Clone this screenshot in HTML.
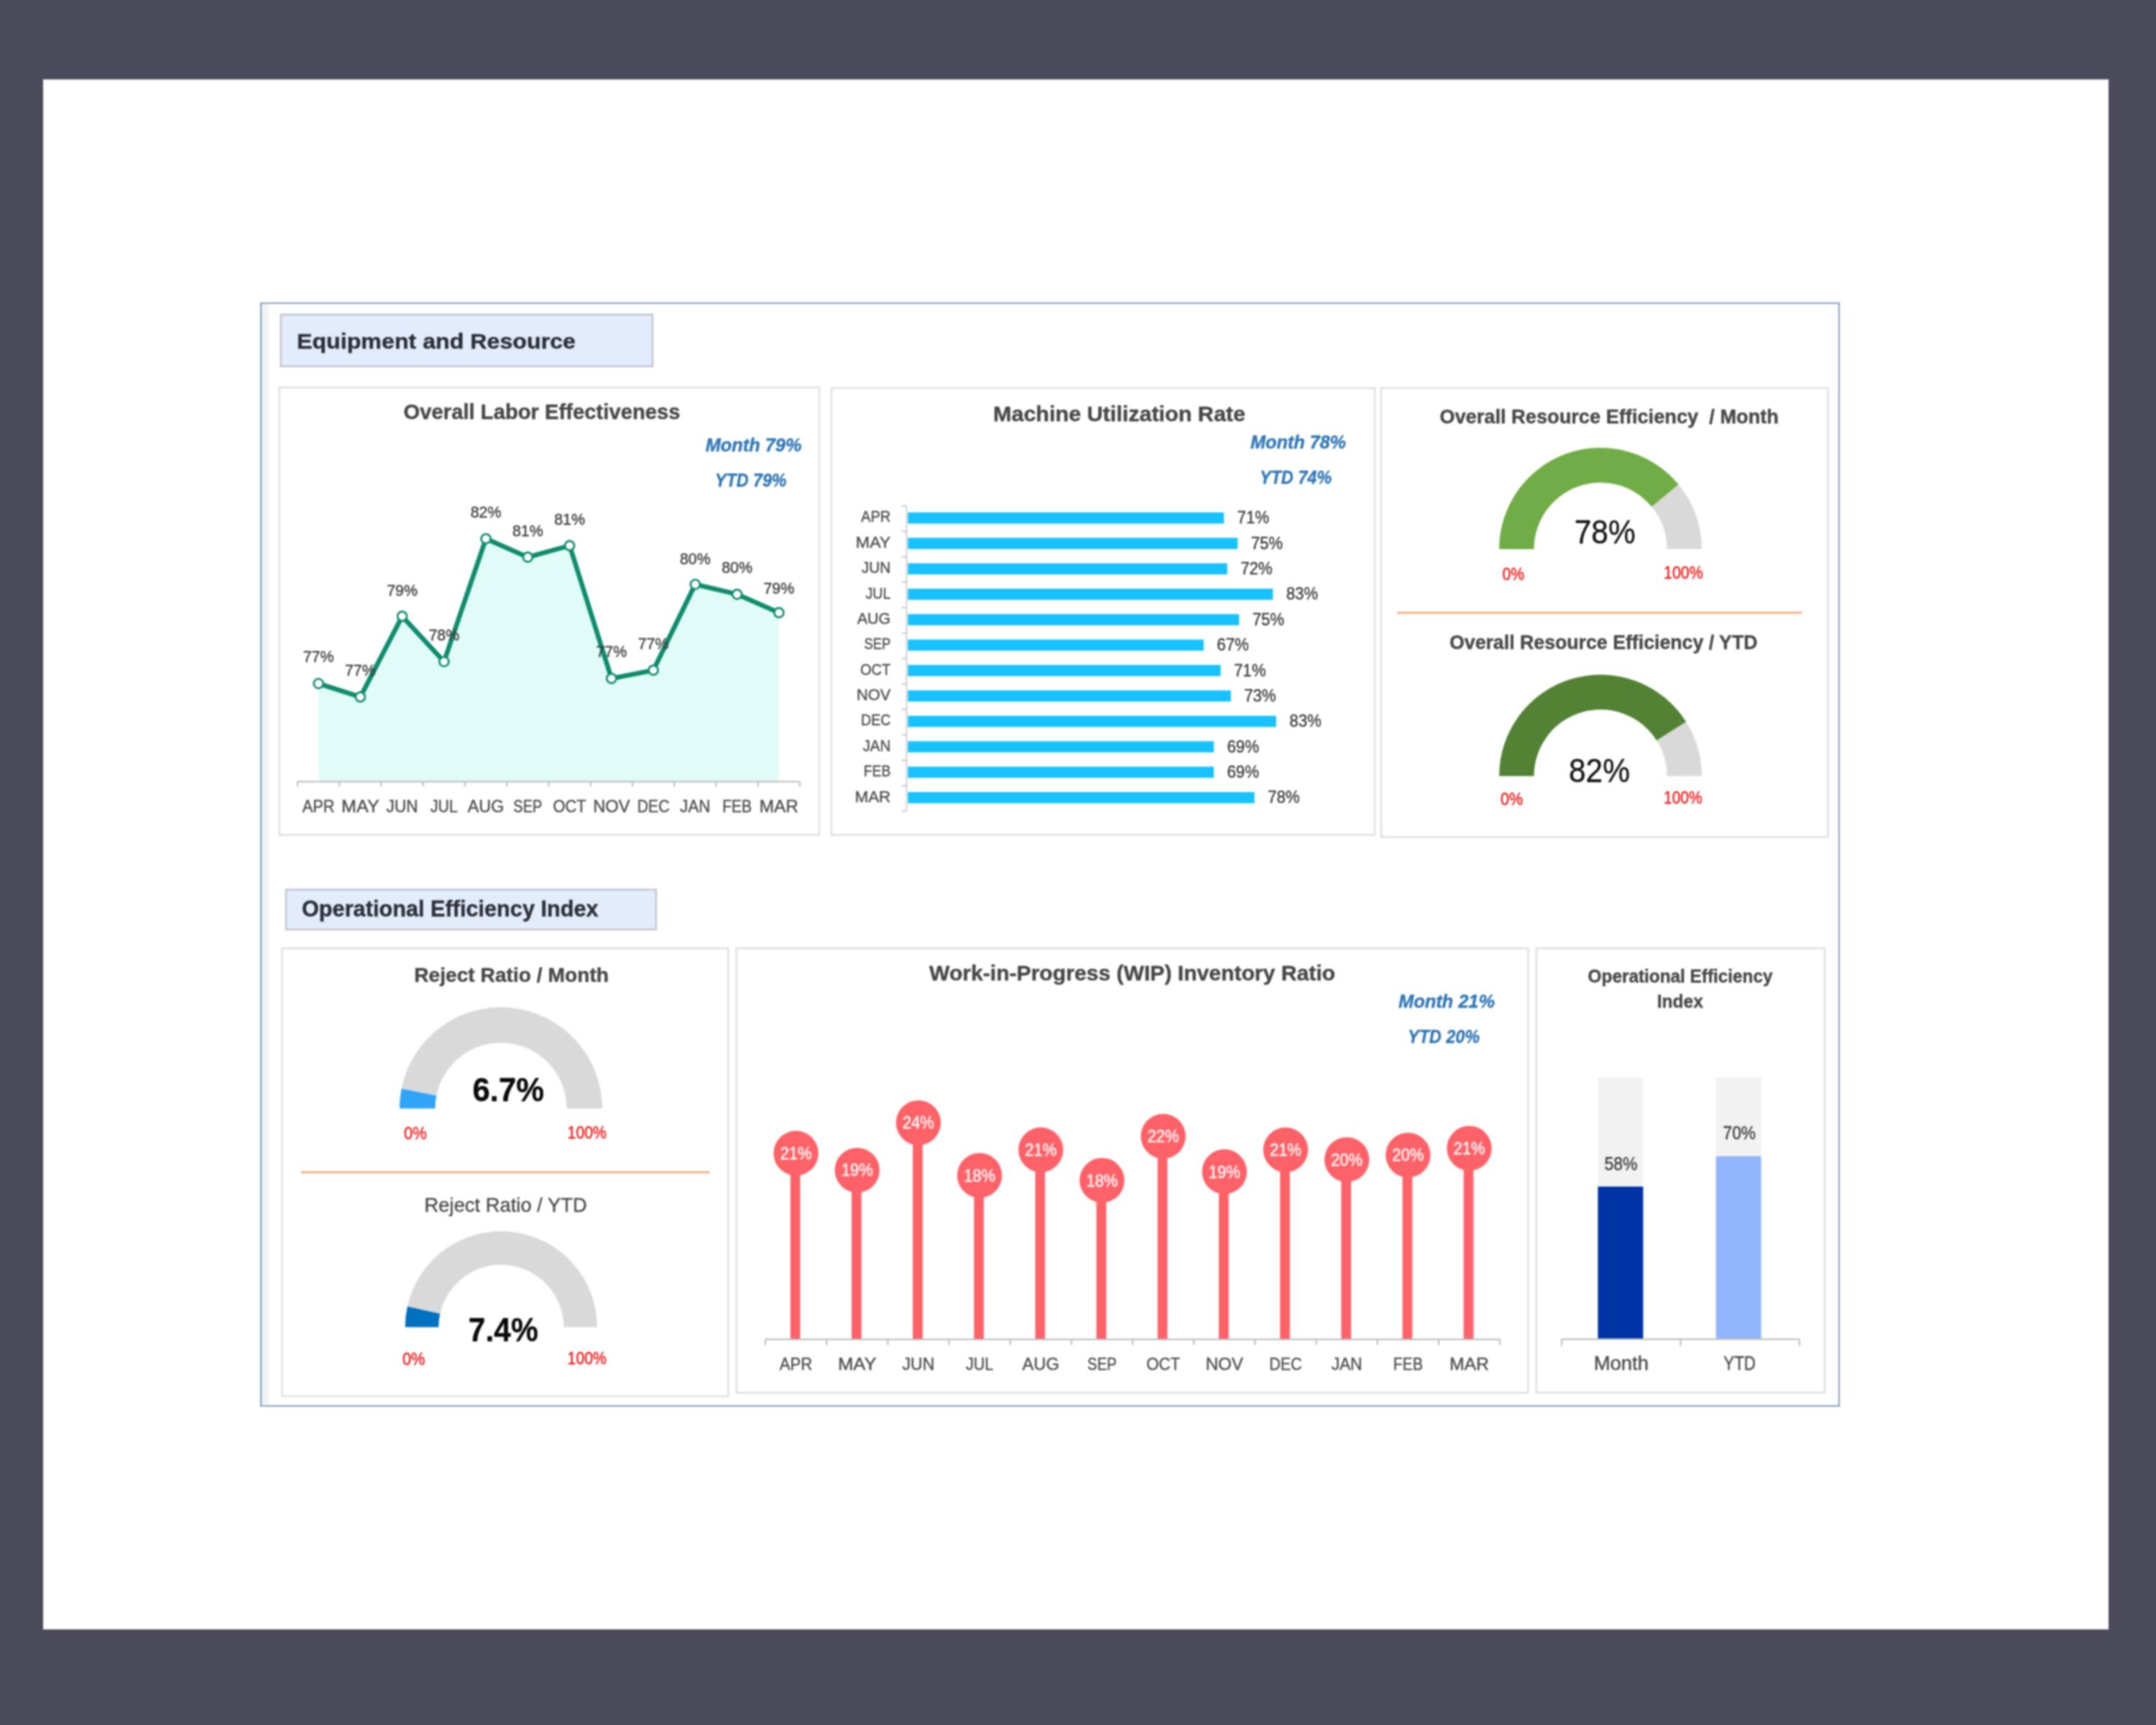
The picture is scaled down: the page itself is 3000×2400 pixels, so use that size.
<!DOCTYPE html>
<html lang="en"><head><meta charset="utf-8"><title>Manufacturing KPI Dashboard</title>
<style>
html,body{margin:0;padding:0;background:#4b4a59;}
body{width:3000px;height:2400px;overflow:hidden;}
svg{display:block;font-family:"Liberation Sans",sans-serif;}
text{stroke-width:0.4px;}
</style></head><body>
<svg width="3000" height="2400" viewBox="0 0 3000 2400">
<g style="filter:blur(0.8px)">
<rect x="60.00" y="110.50" width="2874.00" height="2156.50" fill="#ffffff"/>
<rect x="363.00" y="421.70" width="2196.00" height="1534.50" fill="#ffffff" stroke="#6283b0" stroke-width="1.6"/>
<rect x="364.00" y="422.70" width="2.80" height="1532.50" fill="#e0effc"/>
<rect x="366.80" y="422.70" width="7.00" height="1532.50" fill="#f4f2f3"/>
<rect x="390.80" y="437.70" width="517.20" height="72.10" fill="#e3ecfd" stroke="#bfc4cb" stroke-width="2.4"/>
<text x="607.00" y="485.00" font-size="29.50" fill="#2b2e36" stroke="#2b2e36" text-anchor="middle" font-weight="700" textLength="388.00" lengthAdjust="spacingAndGlyphs">Equipment and Resource</text>
<rect x="398.00" y="1237.70" width="515.00" height="55.50" fill="#e3ecfd" stroke="#bfc4cb" stroke-width="2.3"/>
<text x="626.30" y="1275.00" font-size="32.00" fill="#2b2e36" stroke="#2b2e36" text-anchor="middle" font-weight="700" textLength="412.60" lengthAdjust="spacingAndGlyphs">Operational Efficiency Index</text>
<rect x="388.70" y="539.00" width="751.30" height="622.50" fill="#ffffff" stroke="#dedede" stroke-width="2.4"/>
<rect x="1156.80" y="540.00" width="756.20" height="621.50" fill="#ffffff" stroke="#dedede" stroke-width="2.4"/>
<rect x="1922.00" y="540.00" width="621.50" height="624.50" fill="#ffffff" stroke="#dedede" stroke-width="2.4"/>
<rect x="392.60" y="1319.40" width="620.80" height="623.10" fill="#ffffff" stroke="#dedede" stroke-width="2.4"/>
<rect x="1024.70" y="1319.40" width="1101.70" height="618.40" fill="#ffffff" stroke="#dedede" stroke-width="2.4"/>
<rect x="2137.70" y="1319.40" width="401.40" height="618.10" fill="#ffffff" stroke="#dedede" stroke-width="2.4"/>
<text x="754.05" y="583.10" font-size="30.00" fill="#464646" stroke="#464646" text-anchor="middle" font-weight="700" textLength="384.90" lengthAdjust="spacingAndGlyphs">Overall Labor Effectiveness</text>
<text x="1048.60" y="628.30" font-size="26.00" fill="#2e75b6" stroke="#2e75b6" text-anchor="middle" font-weight="700" font-style="italic" textLength="133.80" lengthAdjust="spacingAndGlyphs">Month 79%</text>
<text x="1044.75" y="676.80" font-size="26.00" fill="#2e75b6" stroke="#2e75b6" text-anchor="middle" font-weight="700" font-style="italic" textLength="99.50" lengthAdjust="spacingAndGlyphs">YTD 79%</text>
<polygon points="443.12,1087.4 443.12,951.00 501.38,969.70 559.62,857.40 617.88,920.50 676.12,749.50 734.38,775.20 792.62,759.10 850.88,943.90 909.12,932.40 967.38,813.00 1025.62,826.80 1083.88,852.40 1083.88,1087.4" fill="#e1fcf8"/>
<line x1="414.00" y1="1087.40" x2="1113.00" y2="1087.40" stroke="#b9b9b9" stroke-width="2"/>
<line x1="414.00" y1="1087.40" x2="414.00" y2="1094.40" stroke="#b9b9b9" stroke-width="2"/>
<line x1="472.25" y1="1087.40" x2="472.25" y2="1094.40" stroke="#b9b9b9" stroke-width="2"/>
<line x1="530.50" y1="1087.40" x2="530.50" y2="1094.40" stroke="#b9b9b9" stroke-width="2"/>
<line x1="588.75" y1="1087.40" x2="588.75" y2="1094.40" stroke="#b9b9b9" stroke-width="2"/>
<line x1="647.00" y1="1087.40" x2="647.00" y2="1094.40" stroke="#b9b9b9" stroke-width="2"/>
<line x1="705.25" y1="1087.40" x2="705.25" y2="1094.40" stroke="#b9b9b9" stroke-width="2"/>
<line x1="763.50" y1="1087.40" x2="763.50" y2="1094.40" stroke="#b9b9b9" stroke-width="2"/>
<line x1="821.75" y1="1087.40" x2="821.75" y2="1094.40" stroke="#b9b9b9" stroke-width="2"/>
<line x1="880.00" y1="1087.40" x2="880.00" y2="1094.40" stroke="#b9b9b9" stroke-width="2"/>
<line x1="938.25" y1="1087.40" x2="938.25" y2="1094.40" stroke="#b9b9b9" stroke-width="2"/>
<line x1="996.50" y1="1087.40" x2="996.50" y2="1094.40" stroke="#b9b9b9" stroke-width="2"/>
<line x1="1054.75" y1="1087.40" x2="1054.75" y2="1094.40" stroke="#b9b9b9" stroke-width="2"/>
<line x1="1113.00" y1="1087.40" x2="1113.00" y2="1094.40" stroke="#b9b9b9" stroke-width="2"/>
<polyline points="443.12,951.00 501.38,969.70 559.62,857.40 617.88,920.50 676.12,749.50 734.38,775.20 792.62,759.10 850.88,943.90 909.12,932.40 967.38,813.00 1025.62,826.80 1083.88,852.40" fill="none" stroke="#0f8c6e" stroke-width="6.6" stroke-linejoin="round" stroke-linecap="round"/>
<circle cx="443.12" cy="951.00" r="6.5" fill="#fff" stroke="#0f8c6e" stroke-width="2.7"/>
<circle cx="501.38" cy="969.70" r="6.5" fill="#fff" stroke="#0f8c6e" stroke-width="2.7"/>
<circle cx="559.62" cy="857.40" r="6.5" fill="#fff" stroke="#0f8c6e" stroke-width="2.7"/>
<circle cx="617.88" cy="920.50" r="6.5" fill="#fff" stroke="#0f8c6e" stroke-width="2.7"/>
<circle cx="676.12" cy="749.50" r="6.5" fill="#fff" stroke="#0f8c6e" stroke-width="2.7"/>
<circle cx="734.38" cy="775.20" r="6.5" fill="#fff" stroke="#0f8c6e" stroke-width="2.7"/>
<circle cx="792.62" cy="759.10" r="6.5" fill="#fff" stroke="#0f8c6e" stroke-width="2.7"/>
<circle cx="850.88" cy="943.90" r="6.5" fill="#fff" stroke="#0f8c6e" stroke-width="2.7"/>
<circle cx="909.12" cy="932.40" r="6.5" fill="#fff" stroke="#0f8c6e" stroke-width="2.7"/>
<circle cx="967.38" cy="813.00" r="6.5" fill="#fff" stroke="#0f8c6e" stroke-width="2.7"/>
<circle cx="1025.62" cy="826.80" r="6.5" fill="#fff" stroke="#0f8c6e" stroke-width="2.7"/>
<circle cx="1083.88" cy="852.40" r="6.5" fill="#fff" stroke="#0f8c6e" stroke-width="2.7"/>
<text x="443.12" y="921.40" font-size="22.82" fill="#3a3a3a" stroke="#3a3a3a" text-anchor="middle" textLength="42.87" lengthAdjust="spacingAndGlyphs">77%</text>
<text x="501.38" y="940.10" font-size="22.82" fill="#3a3a3a" stroke="#3a3a3a" text-anchor="middle" textLength="42.87" lengthAdjust="spacingAndGlyphs">77%</text>
<text x="559.62" y="828.80" font-size="22.82" fill="#3a3a3a" stroke="#3a3a3a" text-anchor="middle" textLength="42.87" lengthAdjust="spacingAndGlyphs">79%</text>
<text x="617.88" y="890.90" font-size="22.82" fill="#3a3a3a" stroke="#3a3a3a" text-anchor="middle" textLength="42.87" lengthAdjust="spacingAndGlyphs">78%</text>
<text x="676.12" y="719.90" font-size="22.82" fill="#3a3a3a" stroke="#3a3a3a" text-anchor="middle" textLength="42.87" lengthAdjust="spacingAndGlyphs">82%</text>
<text x="734.38" y="745.60" font-size="22.82" fill="#3a3a3a" stroke="#3a3a3a" text-anchor="middle" textLength="42.87" lengthAdjust="spacingAndGlyphs">81%</text>
<text x="792.62" y="729.50" font-size="22.82" fill="#3a3a3a" stroke="#3a3a3a" text-anchor="middle" textLength="42.87" lengthAdjust="spacingAndGlyphs">81%</text>
<text x="850.88" y="914.30" font-size="22.82" fill="#3a3a3a" stroke="#3a3a3a" text-anchor="middle" textLength="42.87" lengthAdjust="spacingAndGlyphs">77%</text>
<text x="909.12" y="902.80" font-size="22.82" fill="#3a3a3a" stroke="#3a3a3a" text-anchor="middle" textLength="42.87" lengthAdjust="spacingAndGlyphs">77%</text>
<text x="967.38" y="785.40" font-size="22.82" fill="#3a3a3a" stroke="#3a3a3a" text-anchor="middle" textLength="42.87" lengthAdjust="spacingAndGlyphs">80%</text>
<text x="1025.62" y="797.20" font-size="22.82" fill="#3a3a3a" stroke="#3a3a3a" text-anchor="middle" textLength="42.87" lengthAdjust="spacingAndGlyphs">80%</text>
<text x="1083.88" y="826.30" font-size="22.82" fill="#3a3a3a" stroke="#3a3a3a" text-anchor="middle" textLength="42.87" lengthAdjust="spacingAndGlyphs">79%</text>
<text x="443.12" y="1129.70" font-size="24.66" fill="#4c4c4c" stroke="#4c4c4c" text-anchor="middle" textLength="44.89" lengthAdjust="spacingAndGlyphs">APR</text>
<text x="501.38" y="1129.70" font-size="24.66" fill="#4c4c4c" stroke="#4c4c4c" text-anchor="middle" textLength="52.63" lengthAdjust="spacingAndGlyphs">MAY</text>
<text x="559.62" y="1129.70" font-size="24.66" fill="#4c4c4c" stroke="#4c4c4c" text-anchor="middle" textLength="44.00" lengthAdjust="spacingAndGlyphs">JUN</text>
<text x="617.88" y="1129.70" font-size="24.66" fill="#4c4c4c" stroke="#4c4c4c" text-anchor="middle" textLength="37.84" lengthAdjust="spacingAndGlyphs">JUL</text>
<text x="676.12" y="1129.70" font-size="24.66" fill="#4c4c4c" stroke="#4c4c4c" text-anchor="middle" textLength="50.72" lengthAdjust="spacingAndGlyphs">AUG</text>
<text x="734.38" y="1129.70" font-size="24.66" fill="#4c4c4c" stroke="#4c4c4c" text-anchor="middle" textLength="40.12" lengthAdjust="spacingAndGlyphs">SEP</text>
<text x="792.62" y="1129.70" font-size="24.66" fill="#4c4c4c" stroke="#4c4c4c" text-anchor="middle" textLength="46.10" lengthAdjust="spacingAndGlyphs">OCT</text>
<text x="850.88" y="1129.70" font-size="24.66" fill="#4c4c4c" stroke="#4c4c4c" text-anchor="middle" textLength="51.38" lengthAdjust="spacingAndGlyphs">NOV</text>
<text x="909.12" y="1129.70" font-size="24.66" fill="#4c4c4c" stroke="#4c4c4c" text-anchor="middle" textLength="44.85" lengthAdjust="spacingAndGlyphs">DEC</text>
<text x="967.38" y="1129.70" font-size="24.66" fill="#4c4c4c" stroke="#4c4c4c" text-anchor="middle" textLength="42.28" lengthAdjust="spacingAndGlyphs">JAN</text>
<text x="1025.62" y="1129.70" font-size="24.66" fill="#4c4c4c" stroke="#4c4c4c" text-anchor="middle" textLength="40.87" lengthAdjust="spacingAndGlyphs">FEB</text>
<text x="1083.88" y="1129.70" font-size="24.66" fill="#4c4c4c" stroke="#4c4c4c" text-anchor="middle" textLength="54.16" lengthAdjust="spacingAndGlyphs">MAR</text>
<text x="1557.50" y="586.00" font-size="30.00" fill="#464646" stroke="#464646" text-anchor="middle" font-weight="700" textLength="351.00" lengthAdjust="spacingAndGlyphs">Machine Utilization Rate</text>
<text x="1806.50" y="623.50" font-size="26.00" fill="#2e75b6" stroke="#2e75b6" text-anchor="middle" font-weight="700" font-style="italic" textLength="133.00" lengthAdjust="spacingAndGlyphs">Month 78%</text>
<text x="1803.00" y="673.00" font-size="26.00" fill="#2e75b6" stroke="#2e75b6" text-anchor="middle" font-weight="700" font-style="italic" textLength="100.00" lengthAdjust="spacingAndGlyphs">YTD 74%</text>
<line x1="1261.50" y1="704.00" x2="1261.50" y2="1128.50" stroke="#cfcfcf" stroke-width="2"/>
<line x1="1254.80" y1="704.00" x2="1261.50" y2="704.00" stroke="#c8c8c8" stroke-width="2"/>
<line x1="1254.80" y1="739.38" x2="1261.50" y2="739.38" stroke="#c8c8c8" stroke-width="2"/>
<line x1="1254.80" y1="774.75" x2="1261.50" y2="774.75" stroke="#c8c8c8" stroke-width="2"/>
<line x1="1254.80" y1="810.12" x2="1261.50" y2="810.12" stroke="#c8c8c8" stroke-width="2"/>
<line x1="1254.80" y1="845.50" x2="1261.50" y2="845.50" stroke="#c8c8c8" stroke-width="2"/>
<line x1="1254.80" y1="880.88" x2="1261.50" y2="880.88" stroke="#c8c8c8" stroke-width="2"/>
<line x1="1254.80" y1="916.25" x2="1261.50" y2="916.25" stroke="#c8c8c8" stroke-width="2"/>
<line x1="1254.80" y1="951.62" x2="1261.50" y2="951.62" stroke="#c8c8c8" stroke-width="2"/>
<line x1="1254.80" y1="987.00" x2="1261.50" y2="987.00" stroke="#c8c8c8" stroke-width="2"/>
<line x1="1254.80" y1="1022.38" x2="1261.50" y2="1022.38" stroke="#c8c8c8" stroke-width="2"/>
<line x1="1254.80" y1="1057.75" x2="1261.50" y2="1057.75" stroke="#c8c8c8" stroke-width="2"/>
<line x1="1254.80" y1="1093.12" x2="1261.50" y2="1093.12" stroke="#c8c8c8" stroke-width="2"/>
<line x1="1254.80" y1="1128.50" x2="1261.50" y2="1128.50" stroke="#c8c8c8" stroke-width="2"/>
<rect x="1263.30" y="712.89" width="439.80" height="15.60" fill="#18c2fe"/>
<text x="1721.60" y="728.29" font-size="23.90" fill="#3a3a3a" stroke="#3a3a3a" text-anchor="start" textLength="44.42" lengthAdjust="spacingAndGlyphs">71%</text>
<text x="1239.30" y="726.39" font-size="22.43" fill="#4c4c4c" stroke="#4c4c4c" text-anchor="end" textLength="41.28" lengthAdjust="spacingAndGlyphs">APR</text>
<rect x="1263.30" y="748.26" width="458.90" height="15.60" fill="#18c2fe"/>
<text x="1740.70" y="763.66" font-size="23.90" fill="#3a3a3a" stroke="#3a3a3a" text-anchor="start" textLength="44.42" lengthAdjust="spacingAndGlyphs">75%</text>
<text x="1239.30" y="761.76" font-size="22.43" fill="#4c4c4c" stroke="#4c4c4c" text-anchor="end" textLength="48.41" lengthAdjust="spacingAndGlyphs">MAY</text>
<rect x="1263.30" y="783.64" width="444.40" height="15.60" fill="#18c2fe"/>
<text x="1726.20" y="799.04" font-size="23.90" fill="#3a3a3a" stroke="#3a3a3a" text-anchor="start" textLength="44.42" lengthAdjust="spacingAndGlyphs">72%</text>
<text x="1239.30" y="797.14" font-size="22.43" fill="#4c4c4c" stroke="#4c4c4c" text-anchor="end" textLength="40.47" lengthAdjust="spacingAndGlyphs">JUN</text>
<rect x="1263.30" y="819.01" width="507.90" height="15.60" fill="#18c2fe"/>
<text x="1789.70" y="834.41" font-size="23.90" fill="#3a3a3a" stroke="#3a3a3a" text-anchor="start" textLength="44.42" lengthAdjust="spacingAndGlyphs">83%</text>
<text x="1239.30" y="832.51" font-size="22.43" fill="#4c4c4c" stroke="#4c4c4c" text-anchor="end" textLength="34.80" lengthAdjust="spacingAndGlyphs">JUL</text>
<rect x="1263.30" y="854.39" width="460.90" height="15.60" fill="#18c2fe"/>
<text x="1742.70" y="869.79" font-size="23.90" fill="#3a3a3a" stroke="#3a3a3a" text-anchor="start" textLength="44.42" lengthAdjust="spacingAndGlyphs">75%</text>
<text x="1239.30" y="867.89" font-size="22.43" fill="#4c4c4c" stroke="#4c4c4c" text-anchor="end" textLength="46.65" lengthAdjust="spacingAndGlyphs">AUG</text>
<rect x="1263.30" y="889.76" width="411.50" height="15.60" fill="#18c2fe"/>
<text x="1693.30" y="905.16" font-size="23.90" fill="#3a3a3a" stroke="#3a3a3a" text-anchor="start" textLength="44.42" lengthAdjust="spacingAndGlyphs">67%</text>
<text x="1239.30" y="903.26" font-size="22.43" fill="#4c4c4c" stroke="#4c4c4c" text-anchor="end" textLength="36.90" lengthAdjust="spacingAndGlyphs">SEP</text>
<rect x="1263.30" y="925.14" width="435.20" height="15.60" fill="#18c2fe"/>
<text x="1717.00" y="940.54" font-size="23.90" fill="#3a3a3a" stroke="#3a3a3a" text-anchor="start" textLength="44.42" lengthAdjust="spacingAndGlyphs">71%</text>
<text x="1239.30" y="938.64" font-size="22.43" fill="#4c4c4c" stroke="#4c4c4c" text-anchor="end" textLength="42.40" lengthAdjust="spacingAndGlyphs">OCT</text>
<rect x="1263.30" y="960.51" width="449.40" height="15.60" fill="#18c2fe"/>
<text x="1731.20" y="975.91" font-size="23.90" fill="#3a3a3a" stroke="#3a3a3a" text-anchor="start" textLength="44.42" lengthAdjust="spacingAndGlyphs">73%</text>
<text x="1239.30" y="974.01" font-size="22.43" fill="#4c4c4c" stroke="#4c4c4c" text-anchor="end" textLength="47.25" lengthAdjust="spacingAndGlyphs">NOV</text>
<rect x="1263.30" y="995.89" width="512.50" height="15.60" fill="#18c2fe"/>
<text x="1794.30" y="1011.29" font-size="23.90" fill="#3a3a3a" stroke="#3a3a3a" text-anchor="start" textLength="44.42" lengthAdjust="spacingAndGlyphs">83%</text>
<text x="1239.30" y="1009.39" font-size="22.43" fill="#4c4c4c" stroke="#4c4c4c" text-anchor="end" textLength="41.25" lengthAdjust="spacingAndGlyphs">DEC</text>
<rect x="1263.30" y="1031.26" width="425.70" height="15.60" fill="#18c2fe"/>
<text x="1707.50" y="1046.66" font-size="23.90" fill="#3a3a3a" stroke="#3a3a3a" text-anchor="start" textLength="44.42" lengthAdjust="spacingAndGlyphs">69%</text>
<text x="1239.30" y="1044.76" font-size="22.43" fill="#4c4c4c" stroke="#4c4c4c" text-anchor="end" textLength="38.88" lengthAdjust="spacingAndGlyphs">JAN</text>
<rect x="1263.30" y="1066.64" width="425.70" height="15.60" fill="#18c2fe"/>
<text x="1707.50" y="1082.04" font-size="23.90" fill="#3a3a3a" stroke="#3a3a3a" text-anchor="start" textLength="44.42" lengthAdjust="spacingAndGlyphs">69%</text>
<text x="1239.30" y="1080.14" font-size="22.43" fill="#4c4c4c" stroke="#4c4c4c" text-anchor="end" textLength="37.59" lengthAdjust="spacingAndGlyphs">FEB</text>
<rect x="1263.30" y="1102.01" width="482.30" height="15.60" fill="#18c2fe"/>
<text x="1764.10" y="1117.41" font-size="23.90" fill="#3a3a3a" stroke="#3a3a3a" text-anchor="start" textLength="44.42" lengthAdjust="spacingAndGlyphs">78%</text>
<text x="1239.30" y="1115.51" font-size="22.43" fill="#4c4c4c" stroke="#4c4c4c" text-anchor="end" textLength="49.81" lengthAdjust="spacingAndGlyphs">MAR</text>
<text x="2239.15" y="588.50" font-size="27.50" fill="#464646" stroke="#464646" text-anchor="middle" font-weight="700" textLength="471.70" lengthAdjust="spacingAndGlyphs">Overall Resource Efficiency  / Month</text>
<path d="M2335.64,674.12 A141,141 0 0 1 2368.00,764.00 L2319.50,764.00 A92.5,92.5 0 0 0 2298.27,705.04 Z" fill="#d9d9d9"/>
<path d="M2086.00,764.00 A141,141 0 0 1 2335.64,674.12 L2298.27,705.04 A92.5,92.5 0 0 0 2134.50,764.00 Z" fill="#70ad47"/>
<text x="2233.20" y="755.60" font-size="46.30" fill="#141414" stroke="#141414" text-anchor="middle" textLength="85.00" lengthAdjust="spacingAndGlyphs">78%</text>
<text x="2105.75" y="806.80" font-size="23.00" fill="#ee1010" stroke="#ee1010" text-anchor="middle" textLength="30.50" lengthAdjust="spacingAndGlyphs">0%</text>
<text x="2342.40" y="805.00" font-size="23.00" fill="#ee1010" stroke="#ee1010" text-anchor="middle" textLength="54.80" lengthAdjust="spacingAndGlyphs">100%</text>
<line x1="1944.00" y1="852.40" x2="2507.50" y2="852.40" stroke="#f3a470" stroke-width="2.5"/>
<text x="2231.25" y="903.00" font-size="27.50" fill="#464646" stroke="#464646" text-anchor="middle" font-weight="700" textLength="428.50" lengthAdjust="spacingAndGlyphs">Overall Resource Efficiency / YTD</text>
<path d="M2346.05,1004.15 A141,141 0 0 1 2368.00,1079.70 L2319.50,1079.70 A92.5,92.5 0 0 0 2305.10,1030.14 Z" fill="#d9d9d9"/>
<path d="M2086.00,1079.70 A141,141 0 0 1 2346.05,1004.15 L2305.10,1030.14 A92.5,92.5 0 0 0 2134.50,1079.70 Z" fill="#548235"/>
<text x="2225.50" y="1088.20" font-size="46.30" fill="#141414" stroke="#141414" text-anchor="middle" textLength="85.00" lengthAdjust="spacingAndGlyphs">82%</text>
<text x="2103.50" y="1119.80" font-size="23.00" fill="#ee1010" stroke="#ee1010" text-anchor="middle" textLength="31.00" lengthAdjust="spacingAndGlyphs">0%</text>
<text x="2341.80" y="1118.00" font-size="23.00" fill="#ee1010" stroke="#ee1010" text-anchor="middle" textLength="53.60" lengthAdjust="spacingAndGlyphs">100%</text>
<text x="711.60" y="1366.40" font-size="28.00" fill="#464646" stroke="#464646" text-anchor="middle" font-weight="700" textLength="270.80" lengthAdjust="spacingAndGlyphs">Reject Ratio / Month</text>
<path d="M558.74,1514.66 A141,141 0 0 1 838.00,1542.30 L788.50,1542.30 A91.5,91.5 0 0 0 607.28,1524.36 Z" fill="#d9d9d9"/>
<path d="M556.00,1542.30 A141,141 0 0 1 558.74,1514.66 L607.28,1524.36 A91.5,91.5 0 0 0 605.50,1542.30 Z" fill="#2fa4f9"/>
<text x="707.25" y="1532.40" font-size="46.00" fill="#0a0a0a" stroke="#0a0a0a" text-anchor="middle" font-weight="700" textLength="99.50" lengthAdjust="spacingAndGlyphs">6.7%</text>
<text x="577.90" y="1585.40" font-size="23.00" fill="#ee1010" stroke="#ee1010" text-anchor="middle" textLength="31.80" lengthAdjust="spacingAndGlyphs">0%</text>
<text x="816.75" y="1583.80" font-size="23.00" fill="#ee1010" stroke="#ee1010" text-anchor="middle" textLength="54.30" lengthAdjust="spacingAndGlyphs">100%</text>
<line x1="418.80" y1="1631.00" x2="987.70" y2="1631.00" stroke="#f3a470" stroke-width="2.5"/>
<text x="703.65" y="1686.00" font-size="27.50" fill="#4c4c4c" stroke="#4c4c4c" text-anchor="middle" textLength="226.10" lengthAdjust="spacingAndGlyphs">Reject Ratio / YTD</text>
<path d="M566.87,1817.66 A133.6,133.6 0 0 1 830.90,1846.60 L784.30,1846.60 A87,87 0 0 0 612.37,1827.75 Z" fill="#d9d9d9"/>
<path d="M563.70,1846.60 A133.6,133.6 0 0 1 566.87,1817.66 L612.37,1827.75 A87,87 0 0 0 610.30,1846.60 Z" fill="#0070c0"/>
<text x="700.30" y="1865.60" font-size="46.00" fill="#0a0a0a" stroke="#0a0a0a" text-anchor="middle" font-weight="700" textLength="97.20" lengthAdjust="spacingAndGlyphs">7.4%</text>
<text x="575.75" y="1899.40" font-size="23.00" fill="#ee1010" stroke="#ee1010" text-anchor="middle" textLength="31.50" lengthAdjust="spacingAndGlyphs">0%</text>
<text x="816.75" y="1898.30" font-size="23.00" fill="#ee1010" stroke="#ee1010" text-anchor="middle" textLength="54.30" lengthAdjust="spacingAndGlyphs">100%</text>
<text x="1575.50" y="1364.00" font-size="30.00" fill="#464646" stroke="#464646" text-anchor="middle" font-weight="700" textLength="565.00" lengthAdjust="spacingAndGlyphs">Work-in-Progress (WIP) Inventory Ratio</text>
<text x="2013.00" y="1402.00" font-size="26.00" fill="#2e75b6" stroke="#2e75b6" text-anchor="middle" font-weight="700" font-style="italic" textLength="134.00" lengthAdjust="spacingAndGlyphs">Month 21%</text>
<text x="2009.00" y="1451.00" font-size="26.00" fill="#2e75b6" stroke="#2e75b6" text-anchor="middle" font-weight="700" font-style="italic" textLength="100.00" lengthAdjust="spacingAndGlyphs">YTD 20%</text>
<rect x="1099.78" y="1604.50" width="13.70" height="258.90" fill="#fd6268"/>
<circle cx="1107.58" cy="1604.50" r="31.2" fill="#fd6268"/>
<text x="1107.58" y="1612.80" font-size="24.38" fill="#ffffff" stroke="#ffffff" text-anchor="middle" textLength="43.90" lengthAdjust="spacingAndGlyphs">21%</text>
<text x="1107.58" y="1906.00" font-size="24.74" fill="#4c4c4c" stroke="#4c4c4c" text-anchor="middle" textLength="45.54" lengthAdjust="spacingAndGlyphs">APR</text>
<rect x="1184.95" y="1628.10" width="13.70" height="235.30" fill="#fd6268"/>
<circle cx="1192.75" cy="1628.10" r="31.2" fill="#fd6268"/>
<text x="1192.75" y="1636.40" font-size="24.38" fill="#ffffff" stroke="#ffffff" text-anchor="middle" textLength="43.90" lengthAdjust="spacingAndGlyphs">19%</text>
<text x="1192.75" y="1906.00" font-size="24.74" fill="#4c4c4c" stroke="#4c4c4c" text-anchor="middle" textLength="53.40" lengthAdjust="spacingAndGlyphs">MAY</text>
<rect x="1270.12" y="1562.10" width="13.70" height="301.30" fill="#fd6268"/>
<circle cx="1277.92" cy="1562.10" r="31.2" fill="#fd6268"/>
<text x="1277.92" y="1570.40" font-size="24.38" fill="#ffffff" stroke="#ffffff" text-anchor="middle" textLength="43.90" lengthAdjust="spacingAndGlyphs">24%</text>
<text x="1277.92" y="1906.00" font-size="24.74" fill="#4c4c4c" stroke="#4c4c4c" text-anchor="middle" textLength="44.65" lengthAdjust="spacingAndGlyphs">JUN</text>
<rect x="1355.28" y="1635.40" width="13.70" height="228.00" fill="#fd6268"/>
<circle cx="1363.08" cy="1635.40" r="31.2" fill="#fd6268"/>
<text x="1363.08" y="1643.70" font-size="24.38" fill="#ffffff" stroke="#ffffff" text-anchor="middle" textLength="43.90" lengthAdjust="spacingAndGlyphs">18%</text>
<text x="1363.08" y="1906.00" font-size="24.74" fill="#4c4c4c" stroke="#4c4c4c" text-anchor="middle" textLength="38.39" lengthAdjust="spacingAndGlyphs">JUL</text>
<rect x="1440.45" y="1599.80" width="13.70" height="263.60" fill="#fd6268"/>
<circle cx="1448.25" cy="1599.80" r="31.2" fill="#fd6268"/>
<text x="1448.25" y="1608.10" font-size="24.38" fill="#ffffff" stroke="#ffffff" text-anchor="middle" textLength="43.90" lengthAdjust="spacingAndGlyphs">21%</text>
<text x="1448.25" y="1906.00" font-size="24.74" fill="#4c4c4c" stroke="#4c4c4c" text-anchor="middle" textLength="51.46" lengthAdjust="spacingAndGlyphs">AUG</text>
<rect x="1525.62" y="1642.20" width="13.70" height="221.20" fill="#fd6268"/>
<circle cx="1533.42" cy="1642.20" r="31.2" fill="#fd6268"/>
<text x="1533.42" y="1650.50" font-size="24.38" fill="#ffffff" stroke="#ffffff" text-anchor="middle" textLength="43.90" lengthAdjust="spacingAndGlyphs">18%</text>
<text x="1533.42" y="1906.00" font-size="24.74" fill="#4c4c4c" stroke="#4c4c4c" text-anchor="middle" textLength="40.71" lengthAdjust="spacingAndGlyphs">SEP</text>
<rect x="1610.78" y="1580.90" width="13.70" height="282.50" fill="#fd6268"/>
<circle cx="1618.58" cy="1580.90" r="31.2" fill="#fd6268"/>
<text x="1618.58" y="1589.20" font-size="24.38" fill="#ffffff" stroke="#ffffff" text-anchor="middle" textLength="43.90" lengthAdjust="spacingAndGlyphs">22%</text>
<text x="1618.58" y="1906.00" font-size="24.74" fill="#4c4c4c" stroke="#4c4c4c" text-anchor="middle" textLength="46.78" lengthAdjust="spacingAndGlyphs">OCT</text>
<rect x="1695.95" y="1630.20" width="13.70" height="233.20" fill="#fd6268"/>
<circle cx="1703.75" cy="1630.20" r="31.2" fill="#fd6268"/>
<text x="1703.75" y="1638.50" font-size="24.38" fill="#ffffff" stroke="#ffffff" text-anchor="middle" textLength="43.90" lengthAdjust="spacingAndGlyphs">19%</text>
<text x="1703.75" y="1906.00" font-size="24.74" fill="#4c4c4c" stroke="#4c4c4c" text-anchor="middle" textLength="52.12" lengthAdjust="spacingAndGlyphs">NOV</text>
<rect x="1781.12" y="1599.80" width="13.70" height="263.60" fill="#fd6268"/>
<circle cx="1788.92" cy="1599.80" r="31.2" fill="#fd6268"/>
<text x="1788.92" y="1608.10" font-size="24.38" fill="#ffffff" stroke="#ffffff" text-anchor="middle" textLength="43.90" lengthAdjust="spacingAndGlyphs">21%</text>
<text x="1788.92" y="1906.00" font-size="24.74" fill="#4c4c4c" stroke="#4c4c4c" text-anchor="middle" textLength="45.50" lengthAdjust="spacingAndGlyphs">DEC</text>
<rect x="1866.28" y="1613.40" width="13.70" height="250.00" fill="#fd6268"/>
<circle cx="1874.08" cy="1613.40" r="31.2" fill="#fd6268"/>
<text x="1874.08" y="1621.70" font-size="24.38" fill="#ffffff" stroke="#ffffff" text-anchor="middle" textLength="43.90" lengthAdjust="spacingAndGlyphs">20%</text>
<text x="1874.08" y="1906.00" font-size="24.74" fill="#4c4c4c" stroke="#4c4c4c" text-anchor="middle" textLength="42.89" lengthAdjust="spacingAndGlyphs">JAN</text>
<rect x="1951.45" y="1607.10" width="13.70" height="256.30" fill="#fd6268"/>
<circle cx="1959.25" cy="1607.10" r="31.2" fill="#fd6268"/>
<text x="1959.25" y="1615.40" font-size="24.38" fill="#ffffff" stroke="#ffffff" text-anchor="middle" textLength="43.90" lengthAdjust="spacingAndGlyphs">20%</text>
<text x="1959.25" y="1906.00" font-size="24.74" fill="#4c4c4c" stroke="#4c4c4c" text-anchor="middle" textLength="41.47" lengthAdjust="spacingAndGlyphs">FEB</text>
<rect x="2036.62" y="1597.70" width="13.70" height="265.70" fill="#fd6268"/>
<circle cx="2044.42" cy="1597.70" r="31.2" fill="#fd6268"/>
<text x="2044.42" y="1606.00" font-size="24.38" fill="#ffffff" stroke="#ffffff" text-anchor="middle" textLength="43.90" lengthAdjust="spacingAndGlyphs">21%</text>
<text x="2044.42" y="1906.00" font-size="24.74" fill="#4c4c4c" stroke="#4c4c4c" text-anchor="middle" textLength="54.95" lengthAdjust="spacingAndGlyphs">MAR</text>
<line x1="1065.00" y1="1863.40" x2="2087.00" y2="1863.40" stroke="#b9b9b9" stroke-width="2"/>
<line x1="1065.00" y1="1863.40" x2="1065.00" y2="1871.40" stroke="#b9b9b9" stroke-width="2"/>
<line x1="1150.17" y1="1863.40" x2="1150.17" y2="1871.40" stroke="#b9b9b9" stroke-width="2"/>
<line x1="1235.33" y1="1863.40" x2="1235.33" y2="1871.40" stroke="#b9b9b9" stroke-width="2"/>
<line x1="1320.50" y1="1863.40" x2="1320.50" y2="1871.40" stroke="#b9b9b9" stroke-width="2"/>
<line x1="1405.67" y1="1863.40" x2="1405.67" y2="1871.40" stroke="#b9b9b9" stroke-width="2"/>
<line x1="1490.83" y1="1863.40" x2="1490.83" y2="1871.40" stroke="#b9b9b9" stroke-width="2"/>
<line x1="1576.00" y1="1863.40" x2="1576.00" y2="1871.40" stroke="#b9b9b9" stroke-width="2"/>
<line x1="1661.17" y1="1863.40" x2="1661.17" y2="1871.40" stroke="#b9b9b9" stroke-width="2"/>
<line x1="1746.33" y1="1863.40" x2="1746.33" y2="1871.40" stroke="#b9b9b9" stroke-width="2"/>
<line x1="1831.50" y1="1863.40" x2="1831.50" y2="1871.40" stroke="#b9b9b9" stroke-width="2"/>
<line x1="1916.67" y1="1863.40" x2="1916.67" y2="1871.40" stroke="#b9b9b9" stroke-width="2"/>
<line x1="2001.83" y1="1863.40" x2="2001.83" y2="1871.40" stroke="#b9b9b9" stroke-width="2"/>
<line x1="2087.00" y1="1863.40" x2="2087.00" y2="1871.40" stroke="#b9b9b9" stroke-width="2"/>
<text x="2338.05" y="1367.30" font-size="26.50" fill="#464646" stroke="#464646" text-anchor="middle" font-weight="700" textLength="256.90" lengthAdjust="spacingAndGlyphs">Operational Efficiency</text>
<text x="2337.85" y="1401.80" font-size="26.50" fill="#464646" stroke="#464646" text-anchor="middle" font-weight="700" textLength="64.10" lengthAdjust="spacingAndGlyphs">Index</text>
<rect x="2223.40" y="1499.20" width="63.00" height="363.20" fill="#f2f2f2"/>
<rect x="2387.70" y="1499.20" width="62.90" height="363.20" fill="#f2f2f2"/>
<rect x="2223.40" y="1650.90" width="63.00" height="211.50" fill="#0034a5"/>
<rect x="2387.70" y="1608.70" width="62.90" height="253.70" fill="#91b5fd"/>
<line x1="2173.00" y1="1863.20" x2="2503.80" y2="1863.20" stroke="#b9b9b9" stroke-width="2"/>
<line x1="2173.00" y1="1863.20" x2="2173.00" y2="1872.50" stroke="#b9b9b9" stroke-width="2"/>
<line x1="2338.40" y1="1863.20" x2="2338.40" y2="1872.50" stroke="#b9b9b9" stroke-width="2"/>
<line x1="2503.80" y1="1863.20" x2="2503.80" y2="1872.50" stroke="#b9b9b9" stroke-width="2"/>
<text x="2255.50" y="1627.50" font-size="26.00" fill="#3a3a3a" stroke="#3a3a3a" text-anchor="middle" textLength="46.00" lengthAdjust="spacingAndGlyphs">58%</text>
<text x="2420.25" y="1585.30" font-size="26.00" fill="#3a3a3a" stroke="#3a3a3a" text-anchor="middle" textLength="45.50" lengthAdjust="spacingAndGlyphs">70%</text>
<text x="2255.85" y="1906.20" font-size="27.00" fill="#4c4c4c" stroke="#4c4c4c" text-anchor="middle" textLength="76.30" lengthAdjust="spacingAndGlyphs">Month</text>
<text x="2420.65" y="1906.20" font-size="27.00" fill="#4c4c4c" stroke="#4c4c4c" text-anchor="middle" textLength="44.70" lengthAdjust="spacingAndGlyphs">YTD</text>
</g>
</svg>
</body></html>
